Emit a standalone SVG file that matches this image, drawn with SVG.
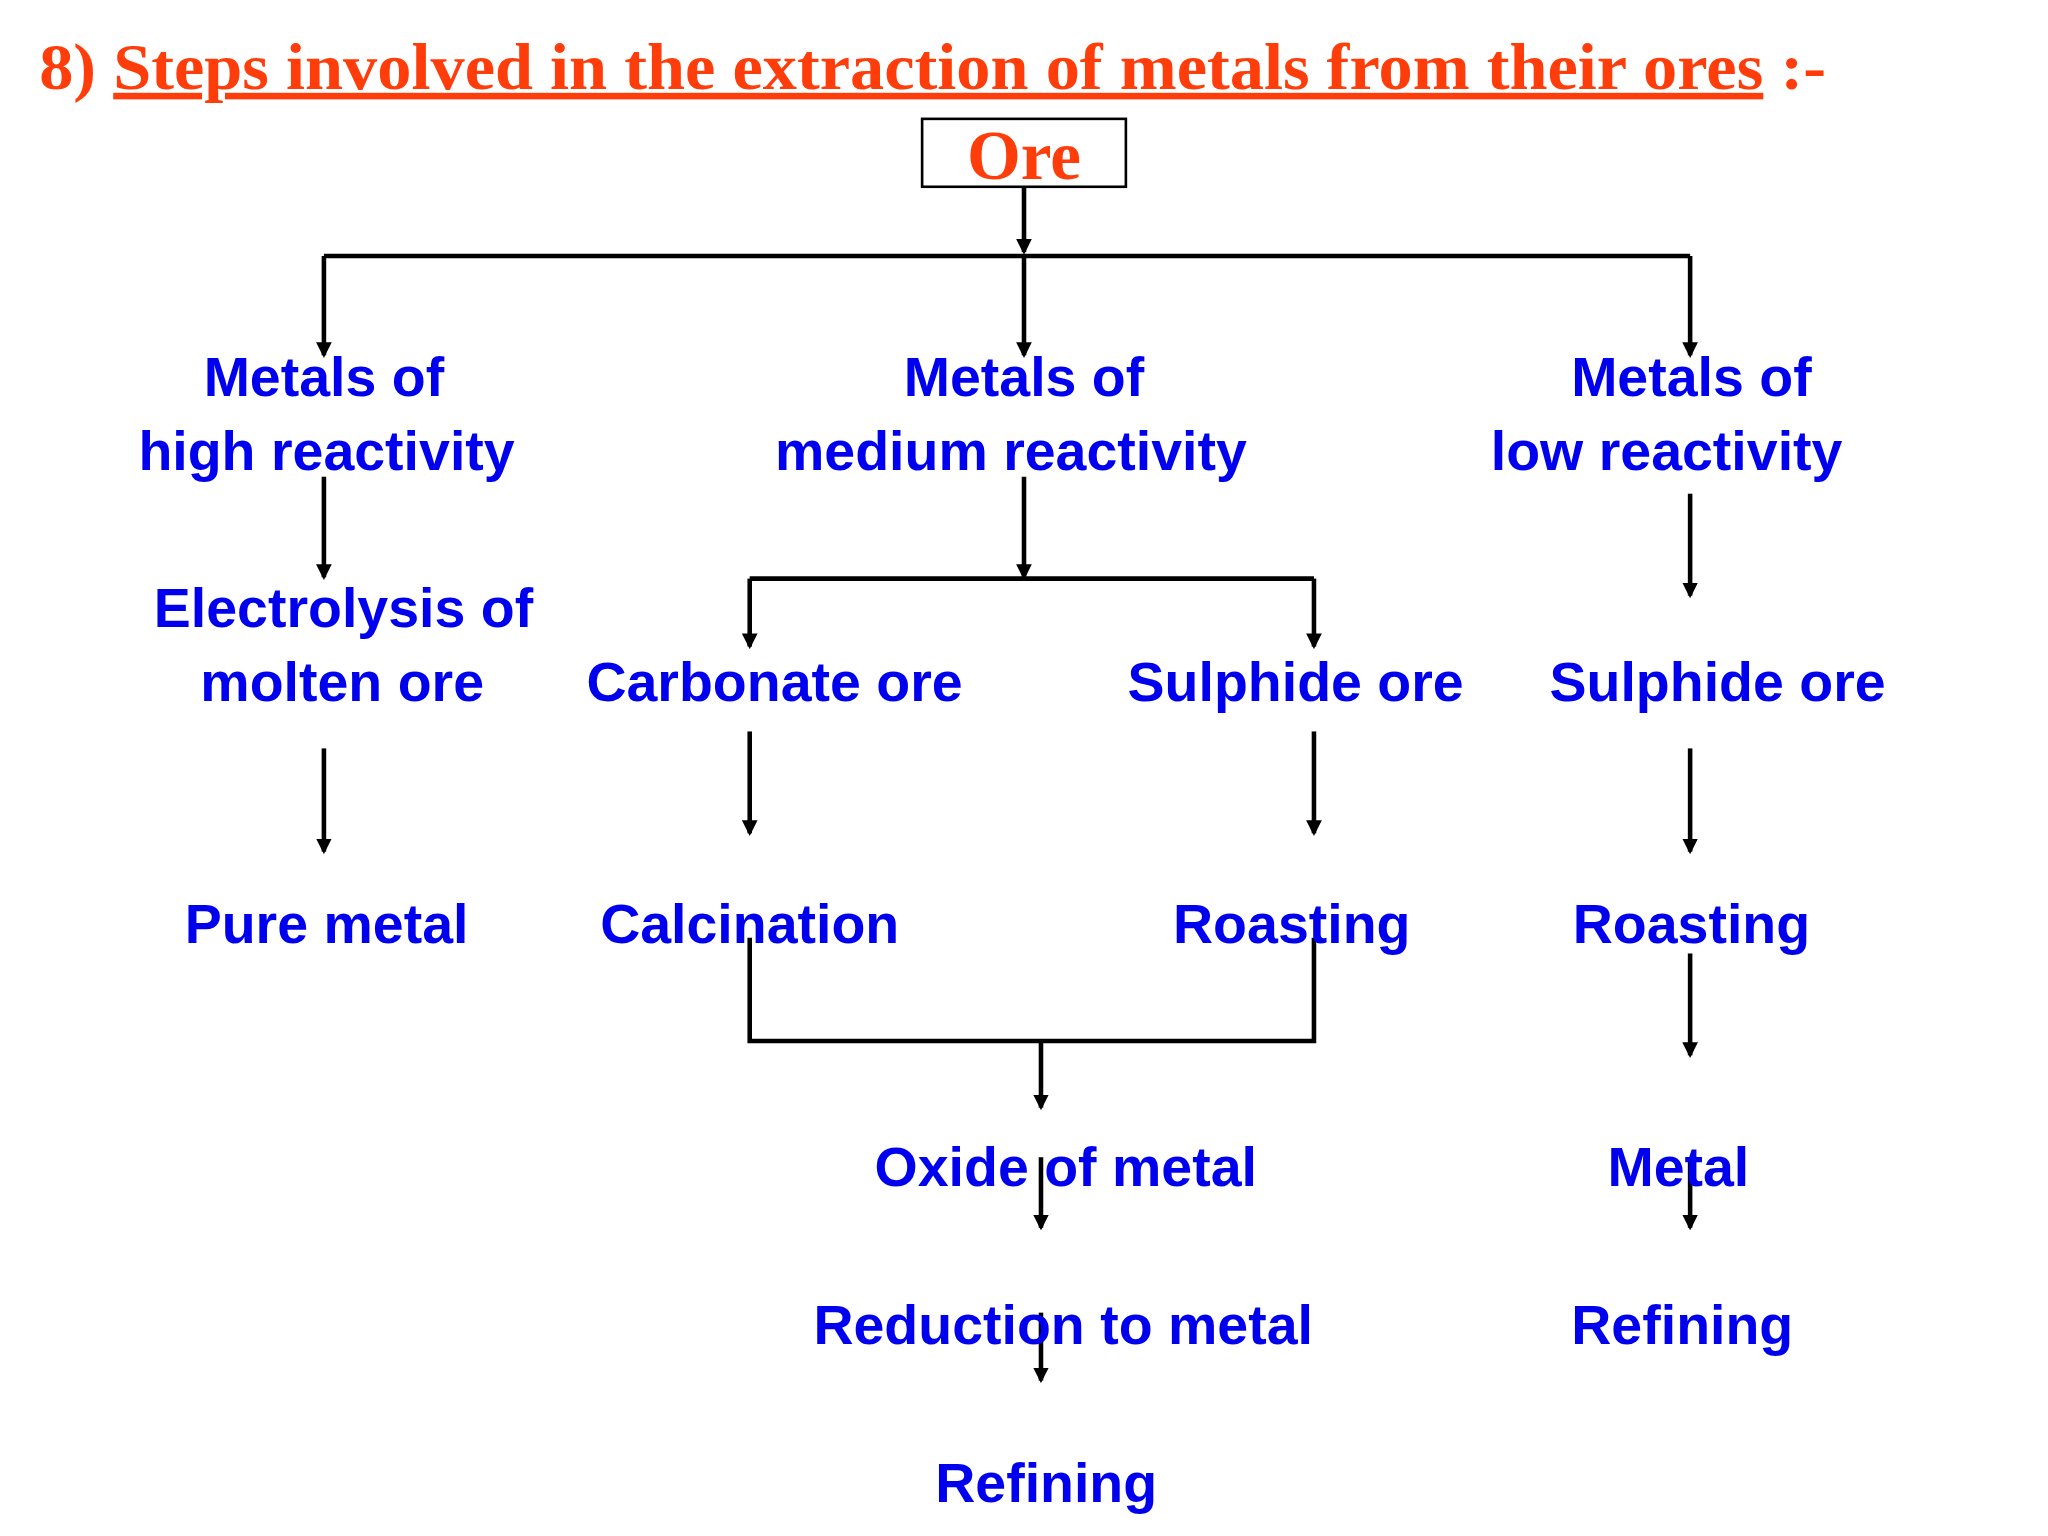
<svg xmlns="http://www.w3.org/2000/svg" width="2048" height="1536" viewBox="0 0 2048 1536">
<style>
.t{font-family:"Liberation Sans",Arial,sans-serif;font-weight:bold;font-size:42.5px;fill:#0000EE;text-anchor:middle}
.c{stroke:#000;stroke-width:3.5;fill:none}
.a{marker-end:url(#ah)}
</style>
<defs><marker id="ah" markerWidth="12" markerHeight="12" refX="10" refY="6" orient="auto" markerUnits="userSpaceOnUse" viewBox="0 0 12 12"><path d="M0,0 L12,6 L0,12 z" fill="#000"/></marker></defs>
<rect width="2048" height="1536" fill="#fff"/>
<g transform="scale(1.30612)">
<g id="title"><text x="30" y="68" font-family="Liberation Serif,Times New Roman,serif" font-weight="bold" font-size="50" fill="#FF3D0A" textLength="1368" lengthAdjust="spacingAndGlyphs">8) <tspan text-decoration="underline">Steps involved in the extraction of metals from their ores</tspan> :-</text></g>
<g id="ore"><rect x="706" y="91" width="156" height="52" fill="#fff" stroke="#000" stroke-width="2"/><text x="784" y="137" text-anchor="middle" font-family="Liberation Serif,Times New Roman,serif" font-weight="bold" font-size="53" fill="#FF3D0A">Ore</text></g>
<g id="connectors" class="c">
<path class="a" d="M784,143 V193"/>
<path d="M248,196 H1294"/>
<path class="a" d="M248,196 V272"/><path class="a" d="M784,196 V272"/><path class="a" d="M1294,196 V272"/>
<path class="a" d="M248,365 V442"/><path class="a" d="M248,573 V652"/>
<path class="a" d="M784,365 V442"/><path d="M574,443 H1006"/>
<path class="a" d="M574,443 V495"/><path class="a" d="M1006,443 V495"/>
<path class="a" d="M574,560 V638"/><path class="a" d="M1006,560 V638"/>
<path d="M574,718 V797 H1006 V718"/>
<path class="a" d="M797,797 V848"/><path class="a" d="M797,886 V940"/><path class="a" d="M797,1005 V1057"/>
<path class="a" d="M1294,378 V456"/><path class="a" d="M1294,573 V652"/><path class="a" d="M1294,730 V808"/><path class="a" d="M1294,886 V940"/>
</g>
<g id="high"><text class="t" x="248" y="303">Metals of</text><text class="t" x="250" y="360">high reactivity</text></g>
<g id="medium"><text class="t" x="784" y="303">Metals of</text><text class="t" x="774" y="360">medium reactivity</text></g>
<g id="low"><text class="t" x="1295" y="303">Metals of</text><text class="t" x="1276" y="360">low reactivity</text></g>
<g id="electrolysis"><text class="t" x="263" y="480">Electrolysis of</text><text class="t" x="262" y="537">molten ore</text></g>
<g id="pure"><text class="t" x="250" y="722">Pure metal</text></g>
<g id="carbonate"><text class="t" x="593" y="537">Carbonate ore</text></g>
<g id="sulphide1"><text class="t" x="992" y="537">Sulphide ore</text></g>
<g id="sulphide2"><text class="t" x="1315" y="537">Sulphide ore</text></g>
<g id="calcination"><text class="t" x="574" y="722">Calcination</text></g>
<g id="roasting1"><text class="t" x="989" y="722">Roasting</text></g>
<g id="roasting2"><text class="t" x="1295" y="722">Roasting</text></g>
<g id="oxide"><text class="t" x="816" y="908">Oxide of metal</text></g>
<g id="metal"><text class="t" x="1285" y="908">Metal</text></g>
<g id="reduction"><text class="t" x="814" y="1029">Reduction to metal</text></g>
<g id="refining2"><text class="t" x="1288" y="1029">Refining</text></g>
<g id="refining1"><text class="t" x="801" y="1150">Refining</text></g>
</g>
</svg>
